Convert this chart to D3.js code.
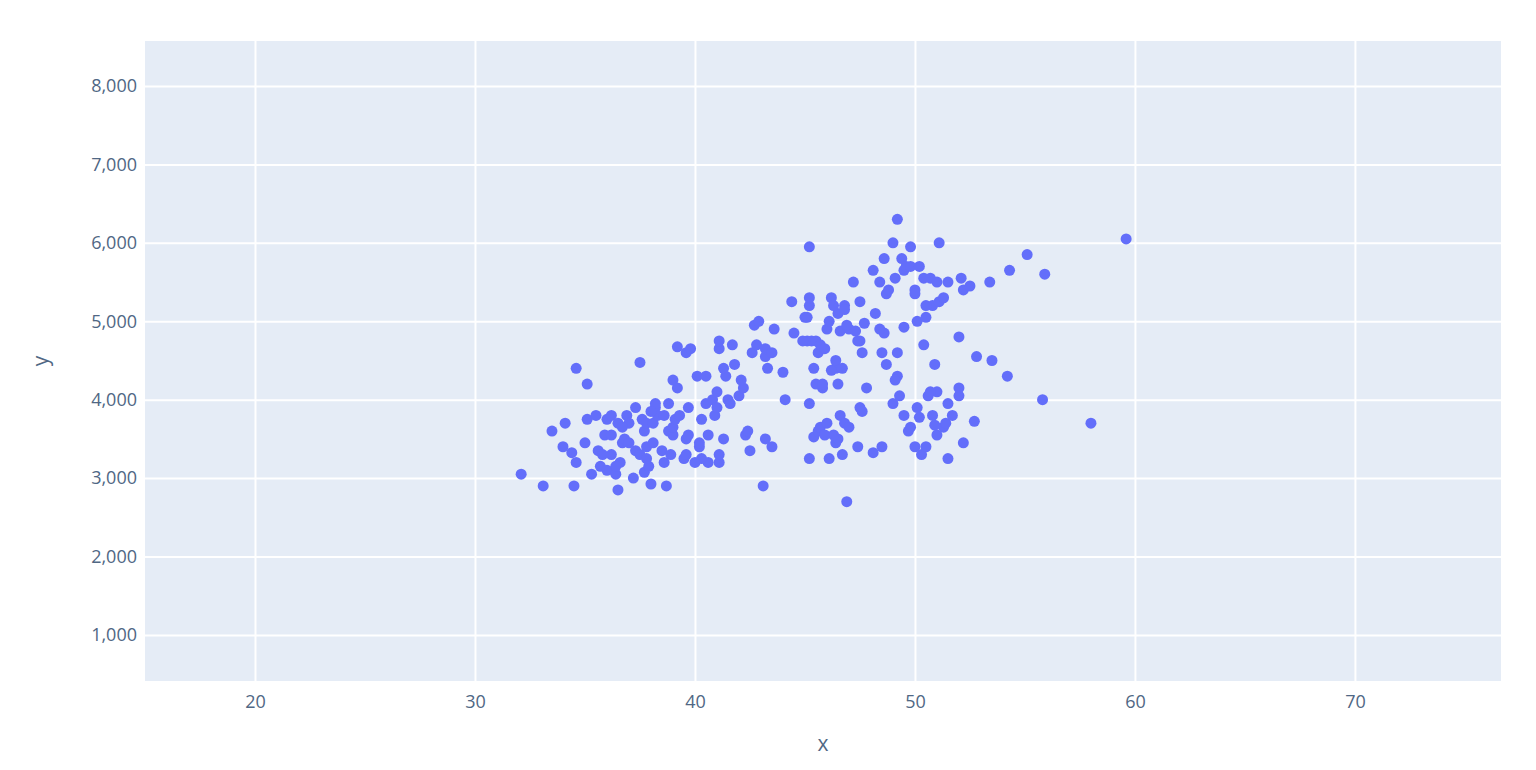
<!DOCTYPE html>
<html><head><meta charset="utf-8">
<script src="https://cdn.jsdelivr.net/npm/d3@7"></script>
<style>body{margin:0;background:#fff}svg{display:block;font-family:"Open Sans",sans-serif}</style>
</head><body><svg id="c" width="1536" height="770"></svg>
<script>
const xTicks=[20,30,40,50,60,70];
const yTicks=[1000,2000,3000,4000,5000,6000,7000,8000];
const adelie=[[32.1,3050],[33.1,2900],[33.5,3600],[34,3400],[34.4,3325],[34.5,2900],[34.6,3200],[34.6,4400],[35.1,4200],[35,3450],[35.1,3750],[35.3,3050],[35.5,3800],[35.6,3350],[35.7,3150],[35.9,3550],[36,3750],[36,3100],[36.2,3300],[36.2,3800],[36.4,3050],[36.5,3700],[36.5,2850],[36.6,3200],[36.7,3450],[36.8,3500],[36.9,3800],[37,3450],[37.2,3000],[37.3,3900],[37.3,3350],[37.5,3300],[37.5,4475],[37.6,3750],[37.7,3600],[37.7,3075],[37.8,3700],[37.8,3400],[37.9,3150],[38,2925],[38.1,3450],[38.1,3700],[38.2,3900],[38.2,3950],[38.3,3800],[38.5,3350],[38.6,3800],[38.7,2900],[38.8,3600],[38.9,3300],[39,3550],[39,3650],[39.1,3750],[39.2,4150],[39.2,4675],[39.3,3800],[39.5,3250],[39.6,3500],[39.6,4600],[39.7,3900],[39.8,4650],[40,3200],[40.1,4300],[40.2,3400],[40.3,3750],[40.5,3950],[40.6,3200],[40.6,3550],[40.8,4000],[40.9,3800],[41,3900],[41.1,4650],[41.1,4750],[41.1,3200],[41.3,3500],[41.4,4300],[41.5,4000],[41.6,3950],[41.8,4450],[42,4050],[42.2,4150],[42.3,3550],[42.5,3350],[42.7,4950],[43.1,2900],[43.2,3500],[43.5,3400],[43.2,4550],[44.1,4000],[45.8,4150],[36.2,3550],[35.8,3300],[37,3700],[38.6,3200],[39.7,3550],[40.2,3450],[41.1,3300],[36.4,3150],[34.1,3700],[39.6,3300],[37.8,3250],[38.8,3950],[40.5,4300],[41.3,4400],[42.1,4250],[39.0,4250],[40.3,3250],[36.7,3650],[38.0,3850],[41.0,4100],[42.4,3600]];
const chinstrap=[[45.2,3250],[45.4,3525],[45.6,3600],[45.7,3650],[45.9,3550],[46,3700],[46.1,3250],[46.4,3450],[46.5,3500],[46.6,3800],[46.7,3300],[46.8,3700],[46.9,2700],[47.0,3650],[47.5,3900],[47.6,3850],[48.1,3325],[48.5,3400],[49,3950],[49.3,4050],[49.5,3800],[49.7,3600],[49.8,3650],[50,3400],[50.1,3900],[50.2,3775],[50.3,3300],[50.5,3400],[50.6,4050],[50.8,3800],[50.9,4450],[51,4100],[51,3550],[51.3,3650],[51.4,3700],[51.5,3950],[51.5,3250],[51.7,3800],[52,4050],[52,4150],[52.2,3450],[52.7,3725],[55.8,4000],[58,3700],[50.9,3675],[45.2,3950],[46.4,4400],[46.3,3550],[49.2,4300],[50.7,4100],[47.4,3400]];
const gentoo=[[41.7,4700],[42.6,4600],[42.8,4700],[42.9,5000],[43.2,4650],[43.3,4400],[43.5,4600],[43.6,4900],[44,4350],[44.4,5250],[44.5,4850],[45,5050],[45.1,4750],[45.2,5200],[45.2,5300],[45.2,5950],[45.3,4750],[45.4,4400],[45.5,4200],[45.5,4750],[45.6,4600],[45.7,4700],[45.8,4200],[46,4900],[46.1,5000],[46.2,4375],[46.2,5300],[46.4,4500],[46.5,5100],[46.5,4200],[46.6,4875],[46.8,5200],[46.8,5150],[47,4900],[47.2,5500],[47.3,4875],[47.5,5250],[47.5,4750],[47.6,4600],[47.7,4975],[48.1,5650],[48.2,5100],[48.4,5500],[48.5,4600],[48.6,5800],[48.7,5350],[48.8,5400],[49,6000],[49.1,5550],[49.2,4600],[49.4,5800],[49.2,6300],[49.5,5650],[49.6,5700],[49.8,5950],[49.8,5700],[50,5400],[50,5350],[50.1,5000],[50.2,5700],[50.4,5550],[50.5,5050],[50.7,5550],[50.8,5200],[51,5500],[51.1,5250],[51.1,6000],[51.3,5300],[51.5,5500],[52.1,5550],[52.2,5400],[52.5,5450],[53.4,5500],[54.3,5650],[55.1,5850],[55.9,5600],[59.6,6050],[52.8,4550],[53.5,4500],[54.2,4300],[52,4800],[49.5,4925],[48.6,4850],[46.7,4400],[45.1,5050],[44.9,4750],[48.7,4450],[49.1,4250],[47.8,4150],[50.4,4700],[46.9,4950],[45.9,4650],[47.4,4750],[48.4,4900],[50.5,5200],[46.3,5200]];
const pts=adelie.concat(chinstrap,gentoo);

const svg=d3.select("#c");
const L=145,R=1501,T=41,B=681;
const x=d3.scaleLinear().domain([15,76.64]).range([L,R]);
const y=d3.scaleLinear().domain([413,8574]).range([B,T]);
svg.append("rect").attr("x",L).attr("y",T).attr("width",R-L).attr("height",B-T).attr("fill","#e5ecf6");
const gx=svg.append("g").attr("transform",`translate(0,${B})`).call(d3.axisBottom(x).tickValues(xTicks).tickSize(-(B-T)).tickPadding(14));
const gy=svg.append("g").attr("transform",`translate(${L},0)`).call(d3.axisLeft(y).tickValues(yTicks).tickSize(-(R-L)).tickPadding(8));
[gx,gy].forEach(g=>{g.select(".domain").remove();g.selectAll(".tick line").attr("stroke","#fff").attr("stroke-width",2);
g.selectAll(".tick text").attr("fill","#506784").style("font-size","18px").style("font-family","'Open Sans',sans-serif");});
svg.append("g").selectAll("circle").data(pts).join("circle")
 .attr("cx",d=>x(d[0])).attr("cy",d=>y(d[1])).attr("r",5.5).attr("fill","#636efa");
svg.append("text").attr("x",(L+R)/2).attr("y",751).attr("text-anchor","middle").attr("fill","#506784").style("font-size","21px").text("x");
svg.append("text").attr("transform",`translate(48,${(T+B)/2}) rotate(-90)`).attr("text-anchor","middle").attr("fill","#506784").style("font-size","21px").text("y");
</script></body></html>
